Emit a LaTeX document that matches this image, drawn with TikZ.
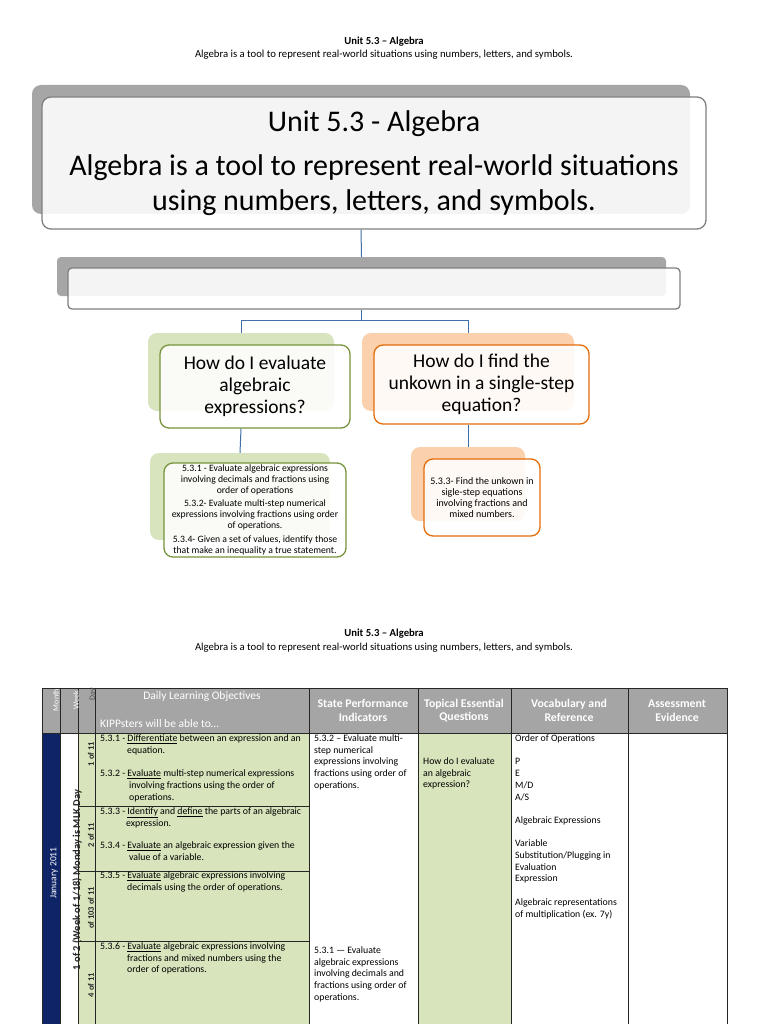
\documentclass[tikz,border=0pt]{standalone}
\usepackage{fontspec}
\setmainfont{Carlito}
\usetikzlibrary{positioning,calc}
\definecolor{shadegray}{HTML}{A6A6A6}
\definecolor{rimgray}{HTML}{7F7F7F}
\definecolor{linkblue}{HTML}{3F6FA6}
\definecolor{leafgreen}{HTML}{D7E4BD}
\definecolor{rimgreen}{HTML}{77933C}
\definecolor{leaforange}{HTML}{FBD0AC}
\definecolor{rimorange}{HTML}{E46C0A}
\definecolor{cellgreen}{HTML}{D8E4BC}
\definecolor{navyblue}{HTML}{0F2466}
\definecolor{headgray}{HTML}{A5A5A5}
\tikzset{
  back/.style={rounded corners=9pt, inner sep=0pt},
  front/.style={rounded corners=9pt, draw, line width=1.3pt, fill=white, fill opacity=.88, text opacity=1, inner sep=0pt, align=center},
  link/.style={draw=linkblue, line width=1pt},
  rule/.style={draw=black!85, line width=.8pt},
  cell/.style={anchor=north west, inner sep=0pt, align=left, font=\fontsize{9.8}{11.7}\selectfont},
  headcell/.style={text=white, align=center, font=\fontsize{11.8}{13.5}\selectfont\bfseries},
  sidecell/.style={rotate=90, inner sep=0pt, font=\fontsize{8.5}{9}\selectfont\bfseries},
}
\begin{document}
\begin{tikzpicture}[x=1pt,y=-1pt]
    \useasboundingbox (0,0) rectangle (768,1024);
    \fill[white] (0,0) rectangle (768,1024);
    % heading, page 1
    \node[font=\fontsize{10.7}{12}\selectfont\bfseries] (titleA) at (384,42) {Unit 5.3 – Algebra};
    \node[font=\fontsize{10.7}{12}\selectfont] (subA) at (384,55) {Algebra is a tool to represent real-world situations using numbers, letters, and symbols.};
    % unit box
    \node[back, fill=shadegray, minimum width=658pt, minimum height=129pt] (unitback) at (361,149.5) {};
    \node[front, draw=rimgray, minimum width=664pt, minimum height=132pt, font=\fontsize{30}{35}\selectfont] (unit) at (374,163) {Unit 5.3 - Algebra\\[9pt]Algebra is a tool to represent real-world situations\\using numbers, letters, and symbols.};
    % empty box
    \node[back, rounded corners=4pt, fill=shadegray, minimum width=609pt, minimum height=39pt] (blankback) at (361.5,276.5) {};
    \node[front, rounded corners=4pt, draw=rimgray, minimum width=612pt, minimum height=41pt] (blank) at (374,288.5) {};
    % questions
    \node[back, fill=leafgreen, minimum width=186pt, minimum height=78pt] (evalback) at (241,372) {};
    \node[front, draw=rimgreen, minimum width=190pt, minimum height=83pt, font=\fontsize{19.5}{22}\selectfont] (eval) at (255,386.5) {How do I evaluate\\algebraic\\expressions?};
    \node[back, fill=leaforange, minimum width=212pt, minimum height=78pt] (findback) at (468,372) {};
    \node[front, draw=rimorange, minimum width=215pt, minimum height=79pt, font=\fontsize{19.5}{22}\selectfont] (find) at (481.5,384.5) {How do I find the\\unkown in a single-step\\equation?};
    % standards
    \node[back, fill=leafgreen, minimum width=180pt, minimum height=87pt] (evalstdback) at (240,496.5) {};
    \node[front, draw=rimgreen, minimum width=182pt, minimum height=94pt, font=\fontsize{9.7}{11}\selectfont] (evalstd) at (255,510) {5.3.1 - Evaluate algebraic expressions\\involving decimals and fractions using\\order of operations\\[2pt]5.3.2- Evaluate multi-step numerical\\expressions involving fractions using order\\of operations.\\[3pt]5.3.4- Given a set of values, identify those\\that make an inequality a true statement.};
    \node[back, fill=leaforange, minimum width=114pt, minimum height=74pt] (findstdback) at (468,484) {};
    \node[front, draw=rimorange, minimum width=116pt, minimum height=77pt, font=\fontsize{10}{11}\selectfont] (findstd) at (482,497.5) {5.3.3- Find the unkown in\\sigle-step equations\\involving fractions and\\mixed numbers.};
    % links
    \draw[link] (unitback |- unit.south) -- (blankback.north);
    \draw[link] (blankback |- blank.south) -- ++(0,11) -| (evalback.north);
    \draw[link] (blankback |- blank.south) -- ++(0,11) -| (findback.north);
    \draw[link] (evalback |- eval.south) -- (evalstdback.north);
    \draw[link] (findback |- find.south) -- (findstdback.north);
    % heading, page 2
    \node[font=\fontsize{10.7}{12}\selectfont\bfseries] (titleB) at (384,634) {Unit 5.3 – Algebra};
    \node[font=\fontsize{10.7}{12}\selectfont] (subB) at (384,648) {Algebra is a tool to represent real-world situations using numbers, letters, and symbols.};
    % table fills
    \fill[headgray] (42,688) rectangle (727,733);
    \fill[navyblue] (42,733) rectangle (60,1024);
    \fill[cellgreen] (78,733) rectangle (309,1024);
    \fill[cellgreen] (418,733) rectangle (511,1024);
    % table rules
    \draw[rule] (42,1024) -- (42,688) -- (727,688) -- (727,1024);
    \draw[rule] (42,733) -- (727,733);
    \draw[rule] (60,688) -- (60,1024);
    \draw[rule] (78,688) -- (78,1024);
    \draw[rule] (95,688) -- (95,1024);
    \draw[rule] (309,688) -- (309,1024);
    \draw[rule] (418,688) -- (418,1024);
    \draw[rule] (511,688) -- (511,1024);
    \draw[rule] (628,688) -- (628,1024);
    \draw[rule] (78,806) -- (309,806);
    \draw[rule] (78,871) -- (309,871);
    \draw[rule] (78,941) -- (309,941);
    % header row
    \node[sidecell, text=white, font=\fontsize{8}{9}\selectfont] (month) at (56,700) {Month};
    \node[sidecell, text=white, font=\fontsize{8}{9}\selectfont] (week) at (76,700) {Week};
    \node[sidecell, text=black!70, font=\fontsize{8}{9}\selectfont] (day) at (93,694) {Day};
    \node[text=white, font=\fontsize{11.5}{13}\selectfont] (dlo) at (202,696) {Daily Learning Objectives};
    \node[text=white, font=\fontsize{11.5}{13}\selectfont, anchor=west, inner sep=0pt] (kipp) at (100,724) {KIPPsters will be able to…};
    \node[headcell] (spihead) at (363,710.5) {State Performance\\Indicators};
    \node[headcell] (teqhead) at (464,710.5) {Topical Essential\\Questions};
    \node[headcell] (vochead) at (569,710.5) {Vocabulary and\\Reference};
    \node[headcell] (asshead) at (677,710.5) {Assessment\\Evidence};
    % side columns
    \node[sidecell, text=white, font=\fontsize{9.5}{10}\selectfont] (month1) at (54,873) {January 2011};
    \node[sidecell, text=black!85, font=\fontsize{10.5}{11}\selectfont\bfseries] (week1) at (77,880) {1 of 2 (Week of 1/18) Monday is MLK Day};
    \node[sidecell, text=black!85] (day1) at (91,754) {1 of 11};
    \node[sidecell, text=black!85] (day2) at (91,835) {2 of 11};
    \node[sidecell, text=black!85] (day3) at (91,908) {of 103 of 11};
    \node[sidecell, text=black!85] (day4) at (91,985) {4 of 11};
    % objectives
    \node[cell] (obj1) at (100,734.5) {5.3.1 - \underline{Differentiate} between an expression and an\\\hspace*{27pt}equation.\\[12pt]5.3.2 - \underline{Evaluate} multi-step numerical expressions\\\hspace*{29pt}involving fractions using the order of\\\hspace*{29pt}operations.};
    \node[cell] (obj2) at (100,807.5) {5.3.3 - \underline{Identify} and \underline{define} the parts of an algebraic\\\hspace*{26pt}expression.\\[11pt]5.3.4 - \underline{Evaluate} an algebraic expression given the\\\hspace*{29pt}value of a variable.};
    \node[cell] (obj3) at (100,871.5) {5.3.5 - \underline{Evaluate} algebraic expressions involving\\\hspace*{27pt}decimals using the order of operations.};
    \node[cell] (obj4) at (100,942.5) {5.3.6 - \underline{Evaluate} algebraic expressions involving\\\hspace*{27pt}fractions and mixed numbers using the\\\hspace*{27pt}order of operations.};
    % indicators, questions, vocabulary
    \node[cell] (spi1) at (314,734.5) {5.3.2 – Evaluate multi-\\step numerical\\expressions involving\\fractions using order of\\operations.};
    \node[cell] (spi2) at (314,946.5) {5.3.1 — Evaluate\\algebraic expressions\\involving decimals and\\fractions using order of\\operations.};
    \node[cell] (teq1) at (423,757.5) {How do I evaluate\\an algebraic\\expression?};
    \node[cell] (voc1) at (515,734.5) {Order of Operations\\[11.7pt]P\\E\\M/D\\A/S\\[11.7pt]Algebraic Expressions\\[11.7pt]Variable\\Substitution/Plugging in\\Evaluation\\Expression\\[11.7pt]Algebraic representations\\of multiplication (ex. 7y)};
\end{tikzpicture}
\end{document}
